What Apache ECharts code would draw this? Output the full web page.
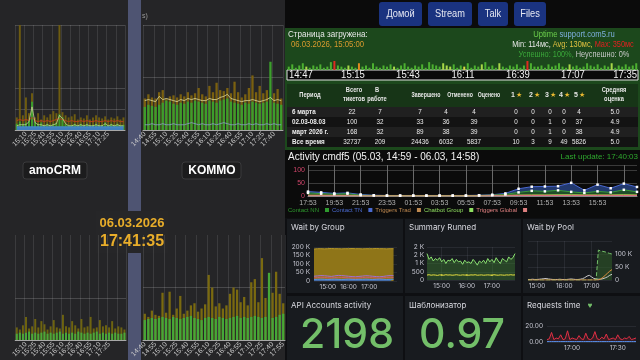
<!DOCTYPE html>
<html><head><meta charset="utf-8">
<script src="https://cdn.jsdelivr.net/npm/echarts@6/dist/echarts.min.js"></script>
<style>html,body{margin:0;padding:0;background:#252527;overflow:hidden}#c{width:640px;height:360px}</style>
</head><body><div id="c"></div><script>
// ---------- categories / tick labels ----------
function timeCats(h, m, n, step){const a=[];let t=h*60+m;for(let i=0;i<n;i++){const hh=Math.floor(t/60)%24,mm=t%60;a.push(String(hh).padStart(2,'0')+':'+String(mm).padStart(2,'0'));t+=step;}return a;}
const amoCats = timeCats(14,55,36,5);
const kommoTopCats = timeCats(14,40,39,5);
const kommoBotCats = timeCats(14,40,40,5);
const actCats = timeCats(17,53,26,60);
const groupCats = timeCats(14,20,25,10);
const sumCats = timeCats(14,25,43,5);
const poolCats = timeCats(14,40,38,5);
const reqCats = []; for(let i=0;i<40;i++){const s=16*3600+43*60+30+i*90;reqCats.push(String(Math.floor(s/3600)).padStart(2,'0')+':'+String(Math.floor(s%3600/60)).padStart(2,'0')+':'+String(s%60).padStart(2,'0'));}
const grafanaTicks = ['15:00','16:00','17:00'];
const timelineLabels = ['14:47','15:15','15:43','16:11','16:39','17:07','17:35'];

// ---------- left panels (amoCRM / KOMMO) ----------
const amoTopOlive = [12,100,14,31,16,35,12,16,10,14,12,15,18,16,100,17,14,12,13,15,10,12,11,14,10,12,14,12,11,13,10,12,11,13,10,12];
const amoTopGreen = [6,8,6,7,9,27,8,6,7,5,6,5,6,7,15,12,6,5,5,6,5,6,5,6,5,5,6,5,5,7,5,6,5,6,5,5];
const amoTopPale  = [4,5,5,5,8,22,7,5,5,4,5,4,5,6,14,11,6,4,4,5,4,5,4,5,4,4,5,4,4,6,4,5,4,5,4,4];
const amoTopRed   = [9,10,9,10,9,12,9,8,9,8,9,8,9,10,11,10,9,8,9,8,8,9,8,9,8,8,9,8,8,9,8,9,8,9,8,8];
const amoTopBlue  = [3,3,3,3,3,3,3,3,3,3,3,3,3,3,3,3,3,3,3,3,3,3,3,3,3,3,3,3,3,3,3,3,3,3,3,3];
const kommoTopGreen = [22,24,23,22,24,26,28,27,25,24,26,25,27,26,28,27,26,25,28,27,26,28,29,30,27,26,25,24,26,25,27,26,25,26,27,65,26,25,24];
const kommoTopOlive = [30,34,31,30,36,38,30,32,33,31,34,32,36,33,35,40,34,32,42,36,45,38,37,40,35,46,36,31,34,40,52,36,42,35,38,30,35,39,30];
const kommoTopPale  = [28,29,28,27,32,29,30,29,28,27,29,28,30,29,30,29,28,28,30,29,29,31,32,34,30,29,28,27,28,28,29,28,27,28,29,31,28,29,28];
const kommoTopBlue  = [5,5,6,5,5,6,5,5,6,5,5,5,6,7,6,5,6,5,5,6,5,6,7,6,5,5,6,5,5,6,5,6,5,5,6,5,6,5,5];
const amoBotOlive = [12,10,14,22,11,13,20,12,18,15,10,13,19,12,11,24,13,12,18,14,11,20,12,13,22,11,12,19,13,14,12,18,11,13,12,10];
const amoBotGreen = [6,7,6,7,8,6,7,6,7,8,6,7,6,7,8,6,7,6,7,6,8,7,6,7,6,7,8,6,7,6,7,6,7,6,6,7];
const kommoBotOlive = [25,22,28,24,23,45,26,46,24,30,42,25,28,33,35,27,30,34,62,50,32,35,30,33,44,50,48,36,41,33,55,58,36,78,40,38,45,65,44,35];
const kommoBotGreen = [19,20,21,20,21,22,21,20,22,21,20,21,22,23,21,20,19,21,22,21,20,22,21,20,21,22,23,21,22,21,22,23,22,21,22,64,21,22,24,25];

// ---------- uptime ----------
const uptimeH = [3,5,2,4,6,3,2,4,3,5,2,3,7,8,4,3,2,4,3,2,6,3,4,2,6,3,2,4,3,5,3,2,4,6,3,2,4,3,5,2,7,5,4,3,6,4,3,5,2,4,3,6,2,4,3,5,7,3,4,2,6,3,2,4,3,5,2,4,8,6,3,3,4,2,5,3,4,6,3,2,5,3,4,2,3,6,4,3,5,2,4,3,6,2,4,3,5,3,4,6];
const uptimeStatus = 'gggggLgggg'+'gggRgggLgg'+'Oggggggggg'+'Lggggggggg'+'ggggLLLggg'+'YggggLgggg'+'LgggggggRg'+'gggggggggg'+'Lggggggggg'+'ggLggggggg';

// ---------- table ----------
const tableHeader = ['Период','Всего\nтикетов','В\nработе','Завершено','Отменено','Оценено','1','2','3','4','5','Средняя\nоценка'];
const tableRows = [
 ['6 марта','22','7','7','4','4','0','0','0','0','4','5.0'],
 ['02.03-08.03','100','32','33','36','39','0','0','1','0','37','4.9'],
 ['март 2026 г.','168','32','89','38','39','0','0','1','0','38','4.9'],
 ['Все время','32737','209','24436','6032','5837','10','3','9','49','5826','5.0']
];

// ---------- activity ----------
const actBlue  = [17,14,10,12,6,3,2,2,2,2,2,2,2,3,5,10,28,36,37,38,51,22,44,30,48,35];
const actGreen = [12,9,7,9,3,2,1,1,1,1,1,1,1,2,3,6,14,20,18,22,16,12,18,14,24,16];
const actOlive = [4,4,3,3,2,2,2,2,2,2,2,2,2,2,3,3,4,5,5,5,6,5,5,5,6,5];
const actLight = [2,2,2,2,1,1,1,1,1,1,1,1,1,1,2,2,3,3,3,4,4,3,3,3,4,3];
const actPink  = [1,1,1,1,0,0,0,0,0,0,0,0,0,0,1,1,2,2,2,2,2,2,2,2,2,2];
const actNames = ['Contact NN','Contact TN','Triggers Trad','Chatbot Group','Triggers Global'];

// ---------- grafana ----------
const grpOrange = [188000,190000,190000,189000,190000,191000,190000,190000,189000,190000,190000,191000,190000,190000,189000,190000,190000,190000,191000,190000,190000,189000,190000,190000];
const grpPurple = [28000,30000,32000,31000,29000,27000,30000,33000,32000,30000,28000,26000,25000,27000,29000,31000,30000,28000,26000,25000,27000,30000,32000,31000];
const grpRed    = [18000,20000,22000,21000,19000,18000,20000,22000,21000,20000,19000,18000,17000,18000,20000,22000,21000,19000,18000,17000,19000,21000,22000,20000];
const grpBlue   = [9000,10000,11000,10000,9000,10000,11000,10000,9000,10000,11000,10000,9000,10000,10000,11000,10000,9000,10000,11000,10000,9000,10000,10000];
const sumGreen  = [1600,1250,1400,1150,1300,1200,1350,1100,1250,1000,1200,1150,1300,1050,1250,1100,1150,950,1200,1050,1100,1000,1250,1100,900,1150,1050,1200,1000,1300,1100,1250,1050,1350,1150,1000,1300,1200,1100,1400,1250,1350,1600];
const sumYellow = [300,320,290,310,300,280,310,300,290,320,300,310,290,300,320,300,290,310,300,300,290,310,300,320,290,300,310,290,300,310,300,290,320,300,290,310,300,290,310,300,320,300,310];
const poolWhite = [2000,2000,3000,2000,2000,3000,4000,5000,6000,4000,3000,2000,2000,2000,3000,2000,2000,2000,3000,4000,3000,2000,2000,3000,5000,9000,15000,18000,12000,6000,4000,3000,3000,5000,8000,12000,18000,22000];
const poolGreen = [0,0,0,0,0,0,0,0,0,0,0,0,0,0,0,0,0,0,0,0,0,0,0,0,0,0,0,0,0,0,0,115000,112000,110000,108000,105000,102000,100000];
const poolOrange= [0,0,0,0,0,0,0,0,0,0,0,0,0,0,0,0,0,0,0,0,0,0,0,0,0,0,0,0,0,0,0,0,4000,10000,18000,26000,34000,40000];
const reqRed  = [3,4,12,3,5,4,9,3,4,14,3,5,4,3,8,4,3,11,4,3,5,13,4,3,6,4,10,3,4,5,3,9,4,3,5,4,7,3,4,5];
const reqBlue = [0.5,0.5,0.5,0.5,0.5,0.5,0.5,0.5,0.5,0.5,0.5,0.5,0.5,0.5,0.5,0.5,0.5,0.5,0.5,0.5,0.5,0.5,0.5,0.5,0.5,0.5,0.5,0.5,0.5,0.5,0.5,0.5,0.5,0.5,0.5,0.5,0.5,0.5,0.5,0.5];
const bigApi = '2198';
const bigTpl = '0.97';

// ================= build =================
const SANS = '"Liberation Sans", Arial, sans-serif';
const INTER = 'Inter, "Noto Sans", sans-serif';
const g = [];
function R(x,y,w,h,fill,extra){extra=extra||{};g.push({type:'rect',silent:true,z:0,shape:{x:x,y:y,width:w,height:h,r:extra.r||0},style:{fill:fill,stroke:extra.stroke||null,lineWidth:extra.lw||1}});}
function T(x,y,text,fill,size,opt){opt=opt||{};const st={text:text,fill:fill,fontSize:size,fontFamily:opt.family||SANS,fontWeight:opt.weight||'normal',textAlign:opt.align||'left',textVerticalAlign:opt.valign||'middle'};
  if(opt.lh)st.lineHeight=opt.lh; if(opt.rich)st.rich=opt.rich;
  g.push({type:'text',x:x,y:y,scaleX:opt.sx||1,silent:true,z:1,style:st});}

// backgrounds
R(0,0,285,360,'#252527');
R(128,0,13,360,'#4e5472');
R(285,0,355,28,'#0b0b0b');
R(285,28,355,122,'#1c481c');
R(285,150,355,68,'#0b0b0b');
R(285,218,355,142,'#0e0f12');
[[287,219,116,74],[405,219,116,74],[523,219,117,74],[287,296,116,64],[405,296,116,64],[523,296,117,64]].forEach(p=>R(p[0],p[1],p[2],p[3],'#181b1f'));

// left labels
T(142,16,'s)','#9a9a9a',7);
R(23,162,64,17,'#1c1c1d',{r:3,stroke:'#3a3a3c'});
T(55,171,'amoCRM','#ffffff',12,{weight:'bold',align:'center'});
R(182,162,59,17,'#1c1c1d',{r:3,stroke:'#3a3a3c'});
T(212,171,'KOMMO','#ffffff',12,{weight:'bold',align:'center'});
R(96,211,72,42,'#262628');
T(132,223,'06.03.2026','#e8ad2a',13,{weight:'bold',align:'center'});
T(132,242,'17:41:35','#e8ad2a',16,{weight:'bold',align:'center'});

// nav
[['Домой',379,43],['Stream',428,44],['Talk',478,30],['Files',514,32]].forEach(b=>{R(b[1],2,b[2],24,'#1a3380',{r:3});T(b[1]+b[2]/2,14,b[0],'#e6e8f2',10.5,{align:'center',sx:0.88});});

// uptime texts
T(288,35,'Страница загружена:','#e8e8e8',9,{sx:0.9});
T(291,45,'06.03.2026, 15:05:00','#d99a2e',9,{sx:0.86});
T(574,35,'{a|Uptime} {b|support.com5.ru}','#e8e8e8',9,{align:'center',sx:0.85,rich:{a:{fill:'#6cd04c',fontSize:9,fontFamily:SANS},b:{fill:'#7fb0e0',fontSize:9,fontFamily:SANS}}});
T(573,45,'{a|Min: 114мс,} {b|Avg: 130мс,} {c|Max: 350мс}','#e8e8e8',9,{align:'center',sx:0.82,rich:{a:{fill:'#e8e8e8',fontSize:9,fontFamily:SANS},b:{fill:'#e0c040',fontSize:9,fontFamily:SANS},c:{fill:'#e02020',fontSize:9,fontFamily:SANS}}});
T(574,55,'{a|Успешно: 100%,} {b|Неуспешно: 0%}','#e8e8e8',9,{align:'center',sx:0.82,rich:{a:{fill:'#3aa83a',fontSize:9,fontFamily:SANS},b:{fill:'#c8c8c8',fontSize:9,fontFamily:SANS}}});
R(287,70,351,10,'#0a0a0a',{stroke:'#e0e0e0'});
timelineLabels.forEach((t,i)=>T(i===0?289:(i===timelineLabels.length-1?637:298+i*55),75.5,t,'#f0f0f0',10,{sx:0.95,align:i===0?'left':(i===timelineLabels.length-1?'right':'center')}));

// table
R(287,84,351,23,'#173517');
['#202020','#131313','#202020','#131313'].forEach((c,i)=>R(287,107+i*10,351,10,c));
const headX = [310,354,377,426,460,489,516,534,550,564,579,614];
const dataX = [292,352,380,420,446,474,516,533,550,564,579,615];
tableHeader.forEach((h,i)=>{
  if(i>=6&&i<=10){T(headX[i]-3,95,h,'#e6e6e6',7,{weight:'bold',align:'center'});T(headX[i]+3,95,'★','#e8b830',7,{align:'center'});}
  else T(headX[i],95,h,'#e6e6e6',7,{weight:'bold',align:'center',lh:9,sx:(i>=3&&i<=5)?0.74:0.82});
});
tableRows.forEach((r,ri)=>r.forEach((v,ci)=>T(dataX[ci],112+ri*10,v,'#ececec',7,{align:ci===0?'left':'center',weight:ci===0?'bold':'normal',sx:0.9})));

// activity title
T(288,157,'Activity cmdf5 (05.03, 14:59 - 06.03, 14:58)','#f2f2f2',10);
T(638,157,'Last update: 17:40:03','#2ea82e',8,{align:'right'});

// grafana titles
T(291,228,'Wait by Group','#d8d9e0',8,{family:INTER});
T(409,228,'Summary Runned','#d8d9e0',8,{family:INTER});
T(527,228,'Wait by Pool','#d8d9e0',8,{family:INTER});
T(291,306,'API Accounts activity','#d8d9e0',8,{family:INTER});
T(409,306,'Шаблонизатор','#d8d9e0',8,{family:INTER});
T(527,306,'Requests time','#d8d9e0',8,{family:INTER});
T(590,306,'♥','#73bf69',8,{align:'center'});
T(347,336,bigApi,'#73bf69',41,{family:INTER,weight:500,align:'center'});
T(462,336,bigTpl,'#73bf69',41,{family:INTER,weight:500,align:'center'});

// ---------- axes ----------
const lblGraf = (i,v)=>grafanaTicks.indexOf(v)>=0;
function leftX(gi,cats){return {type:'category',gridIndex:gi,data:cats,boundaryGap:true,axisLine:{lineStyle:{color:'#a8a8a8'}},axisTick:{show:false},
  axisLabel:{color:'#c8c8c8',fontSize:7,rotate:45,interval:2,margin:3,fontFamily:SANS},
  splitLine:{show:true,interval:2,lineStyle:{color:'rgba(255,255,255,0.1)'}}};}
function leftY(gi,interval,colors){return {type:'value',gridIndex:gi,min:0,max:100,interval:interval,axisLabel:{show:false},axisLine:{show:false},axisTick:{show:false},splitLine:{show:true,lineStyle:{color:colors}}};}
const gax = {color:'#c7c8d2',fontSize:6.5,fontFamily:INTER,margin:3};
const gsplit = {show:true,lineStyle:{color:'rgba(204,204,220,0.09)'}};
const xAxis = [
  leftX(0,amoCats), leftX(1,kommoTopCats), leftX(2,amoCats), leftX(3,kommoBotCats),
  {type:'category',gridIndex:4,data:uptimeH.map((v,i)=>i),show:false},
  {type:'category',gridIndex:5,data:actCats,boundaryGap:false,axisLine:{lineStyle:{color:'#888'}},axisTick:{show:false},axisLabel:{color:'#b0b0b0',fontSize:7,interval:(i)=>i%2===0&&i<=22,margin:4,fontFamily:SANS},splitLine:{show:true,interval:1,lineStyle:{color:'#6a6a6a'}}},
  {type:'category',gridIndex:6,data:groupCats,boundaryGap:false,axisLine:{show:false},axisTick:{show:false},axisLabel:Object.assign({interval:lblGraf},gax),splitLine:Object.assign({interval:lblGraf},gsplit)},
  {type:'category',gridIndex:7,data:sumCats,boundaryGap:false,axisLine:{show:false},axisTick:{show:false},axisLabel:Object.assign({interval:lblGraf},gax),splitLine:Object.assign({interval:lblGraf},gsplit)},
  {type:'category',gridIndex:8,data:poolCats,boundaryGap:false,axisLine:{show:false},axisTick:{show:false},axisLabel:Object.assign({interval:lblGraf},gax),splitLine:Object.assign({interval:lblGraf},gsplit)},
  {type:'category',gridIndex:9,data:reqCats,boundaryGap:false,axisLine:{show:false},axisTick:{show:false},axisLabel:Object.assign({interval:(i,v)=>/:(00|30):00$/.test(v),formatter:v=>v.slice(0,5)},gax),splitLine:{show:false}}
];
const SL='rgba(255,255,255,0.17)', TR='transparent';
const yAxis = [
  leftY(0,20,[TR,SL,SL,TR,TR,SL]),
  leftY(1,25,[TR,TR,SL,TR,SL]),
  leftY(2,20,[TR,TR,SL,TR,TR,TR]),
  leftY(3,25,[TR,TR,SL,TR,TR]),
  {type:'value',gridIndex:4,min:0,max:8,show:false},
  {type:'value',gridIndex:5,min:0,max:120,interval:50,axisLine:{show:false},axisTick:{show:false},axisLabel:{color:'#d0456a',fontSize:7,margin:3,showMaxLabel:false,fontFamily:SANS},splitLine:{show:true,lineStyle:{color:'#3a3a3a'}}},
  {type:'value',gridIndex:6,min:0,max:200000,interval:50000,axisLine:{show:false},axisTick:{show:false},axisLabel:Object.assign({},gax,{margin:4,formatter:v=>v===0?'0':(v/1000)+' K'}),splitLine:gsplit},
  {type:'value',gridIndex:7,min:0,max:2000,interval:500,axisLine:{show:false},axisTick:{show:false},axisLabel:Object.assign({},gax,{formatter:v=>({0:'0',500:'500',1000:'1 K',1500:'2 K',2000:'2 K'})[v]}),splitLine:gsplit},
  {type:'value',gridIndex:8,position:'right',min:0,max:150000,interval:50000,axisLine:{show:false},axisTick:{show:false},axisLabel:Object.assign({},gax,{formatter:v=>v===0?'0':(v/1000)+' K',showMaxLabel:false}),splitLine:gsplit},
  {type:'value',gridIndex:9,min:0,max:20,interval:20,axisLine:{show:false},axisTick:{show:false},axisLabel:Object.assign({},gax,{margin:4,formatter:v=>v.toFixed(2)}),splitLine:gsplit}
];

const OLIVE='#6e5c10', GREEN='#3c9e2c';
function bar(gi,data,color){return {type:'bar',xAxisIndex:gi,yAxisIndex:gi,data:data,barWidth:'64%',barGap:'-100%',itemStyle:{color:color},silent:true};}
function ln(gi,data,color,w,extra){return Object.assign({type:'line',xAxisIndex:gi,yAxisIndex:gi,data:data,symbol:'none',lineStyle:{color:color,width:w||1},silent:true},extra||{});}
const series = [
  bar(0,amoTopOlive,OLIVE), bar(0,amoTopGreen,GREEN),
  ln(0,amoTopRed,'#b8401a',1), ln(0,amoTopPale,'#c8d090',0.8), ln(0,amoTopBlue,'#4a8ed0',1,{areaStyle:{color:'#3f7fc0',opacity:1}}),
  bar(1,kommoTopOlive,'#7a6010'), bar(1,kommoTopGreen,GREEN),
  ln(1,kommoTopPale,'#e0dc98',0.8), ln(1,kommoTopBlue,'#8aa0c8',0.8),
  bar(2,amoBotOlive,'#6e6410'), bar(2,amoBotGreen,'#4aa83a'),
  bar(3,kommoBotOlive,'#7a6a10'), bar(3,kommoBotGreen,'#45a838'),
  {type:'bar',xAxisIndex:4,yAxisIndex:4,data:uptimeH.map((v,i)=>({value:v,itemStyle:{color:{g:'#4cb030',L:'#a8d848',R:'#e02a20',O:'#e08a20',Y:'#d8d840'}[uptimeStatus[i]]}})),barWidth:2,silent:true},
  ln(5,actBlue,'#4a68d0',1,{name:actNames[1],areaStyle:{color:'#22396e',opacity:1},symbol:'rect',symbolSize:2.5,showSymbol:true,itemStyle:{color:'#ffffff'}}),
  ln(5,actGreen,'#3a9a3a',1,{name:actNames[0],areaStyle:{color:'#1f4f2a',opacity:1},symbol:'rect',symbolSize:2.5,showSymbol:true,itemStyle:{color:'#ffffff'}}),
  ln(5,actOlive,'#8a7a30',1,{name:actNames[2],areaStyle:{color:'#4c4a22',opacity:1}}),
  ln(5,actLight,'#90e060',1,{name:actNames[3]}),
  ln(5,actPink,'#e07080',1,{name:actNames[4]}),
  ln(6,grpOrange,'#b89a28',1,{areaStyle:{color:'#8f7518',opacity:1}}),
  ln(6,grpPurple,'#a070d0',1),
  ln(6,grpRed,'#d05a60',1),
  ln(6,grpBlue,'#5a90e0',1,{areaStyle:{color:'#3a6ab8',opacity:0.9}}),
  ln(7,sumGreen,'#8ae070',1,{areaStyle:{color:'#3c7a30',opacity:0.45}}),
  ln(7,sumYellow,'#e8e040',1,{symbol:'circle',symbolSize:1.5,showSymbol:true,itemStyle:{color:'#e8e040'}}),
  ln(8,poolWhite,'#c8c8c8',1),
  ln(8,poolGreen,'#73bf69',1,{areaStyle:{color:'#2e5a28',opacity:0.6},lineStyle:{color:'#73bf69',width:1,type:'dashed'}}),
  ln(8,poolOrange,'#e09040',1),
  ln(9,reqRed,'#e02f44',1,{areaStyle:{color:'#e02f44',opacity:0.15}}),
  ln(9,reqBlue,'#5794f2',1)
];

const option = {
  animation:false,
  backgroundColor:'#252527',
  graphic:{elements:g},
  grid:[
    {left:0,top:25,width:125,height:105},
    {left:143,top:25,width:140,height:105},
    {left:0,top:235,width:126,height:108},
    {left:143,top:235,width:142,height:107},
    {left:287,top:61,width:351,height:9},
    {left:308,top:165,width:329,height:31},
    {left:314,top:247,width:83,height:34},
    {left:427,top:247,width:88,height:33},
    {left:528,top:241,width:84,height:39},
    {left:547,top:326,width:89,height:16}
  ],
  legend:{left:288,top:207,itemWidth:4,itemHeight:4,itemGap:3,icon:'rect',align:'right',padding:0,
    textStyle:{fontSize:6,fontFamily:SANS,padding:[0,1,0,0]},
    data:[
      {name:actNames[0],textStyle:{color:'#2e9a2e'},itemStyle:{color:'#2e9a2e'}},
      {name:actNames[1],textStyle:{color:'#4a6ad0'},itemStyle:{color:'#4a6ad0'}},
      {name:actNames[2],textStyle:{color:'#c08a50'},itemStyle:{color:'#c08a50'}},
      {name:actNames[3],textStyle:{color:'#90e060'},itemStyle:{color:'#90e060'}},
      {name:actNames[4],textStyle:{color:'#e08080'},itemStyle:{color:'#e08080'}}
    ]},
  xAxis:xAxis, yAxis:yAxis, series:series
};
const chart = echarts.init(document.getElementById('c'),null,{renderer:'canvas',width:640,height:360});
chart.setOption(option);
</script></body></html>
